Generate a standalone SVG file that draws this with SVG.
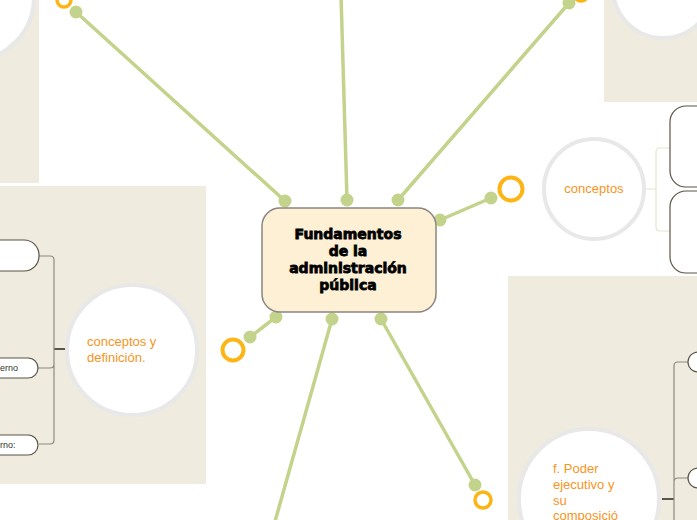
<svg xmlns="http://www.w3.org/2000/svg" width="697" height="520" viewBox="0 0 697 520">
<defs>
<style>
.panel{fill:#efebdf}
.bubble{fill:#ffffff;stroke:#e8e8e8;stroke-width:4}
.lbl{font-family:"Liberation Sans","DejaVu Sans",sans-serif;font-size:13px;fill:#f7941d}
.box{fill:#ffffff;stroke:#5b5346;stroke-width:1.2}
.brk{fill:none;stroke:#8f8a7d;stroke-width:1.2}
.brkd{fill:none;stroke:#4a463d;stroke-width:1.8}
.brkl{fill:none;stroke:#e2e6cd;stroke-width:1.2}
.con{stroke:#c3d38c;stroke-width:3.5;fill:none;stroke-linecap:round}
.dot{fill:#c3d38c}
.ring{fill:none;stroke:#fdb515}
.small{font-family:"Liberation Sans","DejaVu Sans",sans-serif;font-size:9px;fill:#333333}
.title{font-family:"DejaVu Sans","Liberation Sans",sans-serif;font-size:14px;font-weight:bold;fill:#000;stroke:#000;stroke-width:0.8;text-anchor:middle}
</style>
</defs>
<rect width="697" height="520" fill="#ffffff"/>
<!-- panels -->
<rect class="panel" x="0" y="0" width="39" height="183"/>
<rect class="panel" x="604" y="0" width="93" height="102"/>
<rect class="panel" x="0" y="186" width="206" height="298"/>
<rect class="panel" x="508" y="276" width="189" height="244"/>

<!-- top-left node (cropped) -->
<g id="node-topleft">
<circle class="bubble" cx="-30" cy="-3" r="64"/>
</g>
<!-- top-right node (cropped) -->
<g id="node-topright">
<circle class="bubble" cx="663" cy="-12" r="50"/>
</g>

<!-- left node -->
<g id="node-conceptos-definicion">
<path class="brkd" d="M65,349 H54"/>
<path class="brk" d="M39,256 H50 Q54,256 54,260 V440 Q54,444 50,444 H39 M38,368 H50 Q54,368 54,364"/>
<rect class="box" x="-30" y="240" width="69" height="31" rx="15"/>
<rect class="box" x="-30" y="358" width="68" height="20" rx="10"/>
<rect class="box" x="-30" y="435" width="68" height="20" rx="10"/>
<text class="small" x="0" y="371">erno</text>
<text class="small" x="0" y="448">rno:</text>
<circle class="bubble" cx="132" cy="350" r="65"/>
<text class="lbl" x="87" y="346">conceptos y</text>
<text class="lbl" x="87" y="362">definición.</text>
</g>

<!-- right conceptos node -->
<g id="node-conceptos">
<path class="brkl" d="M646,189 H656 M670,148 H660 Q656,148 656,152 V227 Q656,231 660,231 H670"/>
<rect class="box" x="670" y="106" width="70" height="81" rx="16"/>
<rect class="box" x="670" y="191" width="70" height="82" rx="16"/>
<circle class="bubble" cx="594" cy="189" r="50"/>
<text class="lbl" x="594" y="193" text-anchor="middle">conceptos</text>
</g>

<!-- bottom-right node -->
<g id="node-poder-ejecutivo">
<path class="brkd" d="M662,499 H674"/>
<path class="brk" d="M688,362 H678 Q674,362 674,366 V520 M688,478 H678 Q674,478 674,482"/>
<rect class="box" x="688" y="352" width="40" height="20" rx="10"/>
<rect class="box" x="688" y="468" width="40" height="20" rx="10"/>
<circle class="bubble" cx="589" cy="499" r="70"/>
<text class="lbl" x="553" y="473">f. Poder</text>
<text class="lbl" x="553" y="489">ejecutivo y</text>
<text class="lbl" x="553" y="505">su</text>
<text class="lbl" x="553" y="520">composició</text>
</g>

<!-- connectors -->
<g id="connectors">
<line class="con" x1="285" y1="201" x2="76" y2="12"/>
<line class="con" x1="347" y1="200" x2="341" y2="-5"/>
<line class="con" x1="398" y1="200" x2="569" y2="3"/>
<line class="con" x1="440" y1="220" x2="491" y2="198"/>
<line class="con" x1="276" y1="317" x2="250" y2="337"/>
<line class="con" x1="332" y1="319" x2="274" y2="525"/>
<line class="con" x1="381" y1="319" x2="475" y2="485"/>
<circle class="dot" cx="285" cy="201" r="6.5"/>
<circle class="dot" cx="76" cy="12" r="6.5"/>
<circle class="dot" cx="347" cy="200" r="6.5"/>
<circle class="dot" cx="398" cy="200" r="6.5"/>
<circle class="dot" cx="569" cy="3" r="6.5"/>
<circle class="dot" cx="440" cy="220" r="6.5"/>
<circle class="dot" cx="491" cy="198" r="6.5"/>
<circle class="dot" cx="276" cy="317" r="6.5"/>
<circle class="dot" cx="250" cy="337" r="6.5"/>
<circle class="dot" cx="332" cy="319" r="6.5"/>
<circle class="dot" cx="381" cy="319" r="6.5"/>
<circle class="dot" cx="475" cy="485" r="6.5"/>
<circle class="ring" cx="64" cy="0" r="7" stroke-width="3.5"/>
<circle class="ring" cx="581" cy="-6" r="7" stroke-width="3.5"/>
<circle class="ring" cx="511" cy="189" r="11.5" stroke-width="4"/>
<circle class="ring" cx="233" cy="350" r="10.5" stroke-width="4"/>
<circle class="ring" cx="483" cy="500" r="8" stroke-width="3.5"/>
</g>

<!-- central node -->
<g id="node-central">
<rect x="262" y="208" width="174" height="104" rx="18" fill="#fdf0d5" stroke="#8a8580" stroke-width="1.5"/>
<text class="title" x="348" y="239">Fundamentos</text>
<text class="title" x="348" y="256">de la</text>
<text class="title" x="348" y="273">administración</text>
<text class="title" x="348" y="290">pública</text>
</g>
</svg>
